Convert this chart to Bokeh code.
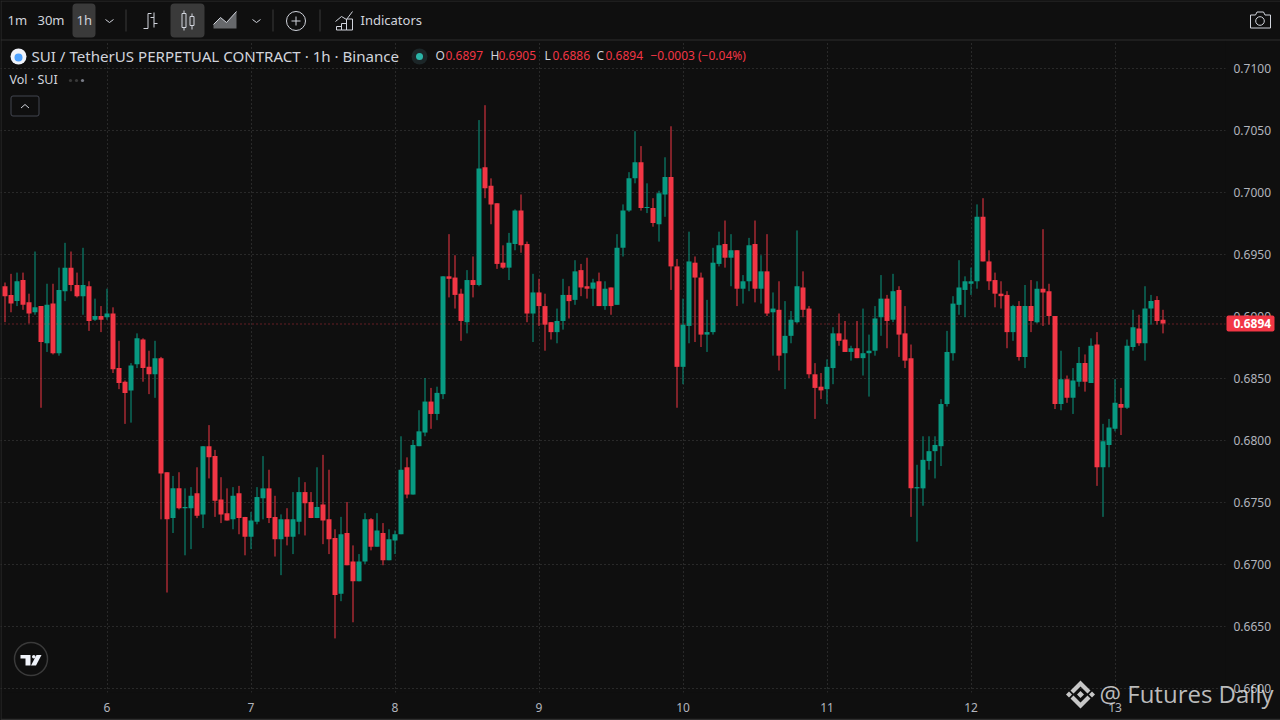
from bokeh.core.properties import value
from bokeh.embed import file_html
from bokeh.layouts import column
from bokeh.models import (ColumnDataSource, FixedTicker,
                          PrintfTickFormatter, Range1d, Span)
from bokeh.plotting import figure
from bokeh.resources import INLINE

PRICE_UNIT = 1e-4
opens = [6924,6917,6912,6929,6911,6903,6908,6878,6910,6870,
6920,6939,6925,6916,6924,6897,6900,6899,6902,6858,
6847,6840,6861,6881,6859,6853,6866,6774,6737,6761,
6745,6745,6757,6740,6795,6787,6752,6741,6736,6757,
6738,6722,6734,6753,6761,6738,6720,6736,6722,6734,
6758,6750,6737,6748,6736,6721,6676,6725,6702,6686,
6702,6736,6714,6725,6703,6719,6724,6778,6756,6795,
6806,6831,6821,6837,6932,6931,6918,6895,6929,6925,
7020,7005,6991,6943,6939,6958,6985,6958,6902,6919,
6908,6895,6887,6896,6917,6913,6937,6924,6922,6928,
6908,6923,6909,6955,6985,7011,7024,6987,6987,6974,
6998,7012,6940,6859,6892,6943,6931,6885,6887,6942,
6958,6947,6953,6922,6928,6958,6922,6936,6903,6905,
6870,6884,6895,6923,6906,6853,6843,6841,6858,6886,
6881,6871,6874,6866,6870,6872,6899,6914,6897,6921,
6886,6866,6761,6761,6783,6791,6795,6829,6870,6909,
6921,6926,6928,6980,6944,6929,6918,6917,6887,6908,
6867,6908,6895,6922,6920,6900,6829,6849,6834,6847,
6862,6846,6877,6778,6796,6809,6829,6826,6875,6890,
6878,6906,6913,6897]
closes = [6916,6910,6928,6909,6902,6907,6879,6909,6870,6921,
6939,6925,6916,6925,6896,6900,6897,6902,6857,6846,
6838,6860,6882,6858,6853,6866,6773,6736,6761,6745,
6746,6755,6739,6795,6786,6751,6740,6735,6755,6737,
6722,6735,6754,6761,6737,6720,6736,6722,6736,6758,
6749,6737,6746,6735,6720,6675,6724,6699,6686,6702,
6736,6714,6727,6703,6720,6724,6776,6756,6796,6807,
6831,6821,6838,6932,6930,6917,6896,6929,6925,7019,
7003,6990,6942,6939,6959,6985,6957,6902,6919,6908,
6893,6887,6896,6917,6912,6936,6923,6922,6927,6908,
6922,6908,6955,6985,7011,7024,6987,6988,6975,6999,
7012,6940,6859,6893,6944,6931,6885,6887,6943,6957,
6947,6953,6922,6928,6957,6922,6936,6902,6906,6868,
6884,6897,6924,6905,6853,6842,6840,6859,6886,6880,
6871,6874,6866,6870,6872,6898,6914,6896,6920,6885,
6864,6761,6762,6784,6791,6796,6829,6871,6910,6923,
6928,6928,6980,6944,6928,6918,6916,6887,6908,6867,
6908,6896,6922,6919,6900,6829,6849,6834,6848,6862,
6847,6876,6778,6799,6810,6830,6826,6876,6891,6878,
6906,6912,6896,6894]
highs = [6927,6934,6935,6935,6918,6952,6908,6926,6926,6939,
6959,6952,6935,6955,6928,6914,6908,6922,6907,6880,
6848,6862,6886,6882,6872,6880,6867,6774,6771,6774,
6761,6762,6778,6795,6812,6792,6770,6761,6762,6763,
6738,6742,6762,6787,6776,6755,6740,6745,6758,6770,
6766,6758,6778,6788,6776,6728,6738,6750,6715,6708,
6741,6737,6741,6733,6728,6727,6803,6786,6800,6824,
6850,6842,6843,6932,6966,6949,6922,6937,6948,7058,
7070,7011,6991,6957,6967,6986,6998,6960,6934,6930,
6918,6895,6906,6930,6924,6945,6942,6947,6930,6935,
6928,6923,6966,6990,7016,7049,7037,7007,6995,7001,
7028,7053,6946,6914,6968,6948,6935,6913,6955,6968,
6977,6966,6953,6933,6963,6977,6949,6966,6919,6928,
6912,6904,6969,6936,6908,6862,6854,6865,6891,6902,
6896,6876,6896,6906,6885,6908,6933,6917,6934,6924,
6908,6877,6780,6803,6803,6803,6833,6888,6916,6945,
6932,6939,6990,6995,6953,6935,6928,6920,6909,6912,
6925,6929,6928,6970,6926,6900,6872,6852,6858,6875,
6869,6882,6887,6813,6817,6849,6842,6881,6905,6901,
6924,6917,6916,6905]
lows = [6895,6903,6908,6905,6894,6901,6826,6871,6869,6868,
6912,6920,6915,6901,6888,6896,6887,6897,6854,6841,
6813,6814,6858,6847,6837,6834,6736,6677,6725,6744,
6707,6712,6737,6729,6769,6738,6733,6735,6728,6724,
6707,6712,6732,6736,6733,6706,6691,6715,6708,6724,
6723,6737,6737,6716,6708,6640,6670,6699,6653,6686,
6700,6711,6714,6699,6703,6708,6724,6753,6756,6795,
6803,6809,6816,6833,6915,6906,6880,6886,6915,6924,
6995,6974,6938,6938,6929,6953,6951,6895,6879,6892,
6872,6881,6878,6889,6898,6909,6916,6914,6908,6908,
6905,6901,6909,6948,6984,7007,6985,6983,6972,6960,
6980,6921,6826,6845,6878,6879,6875,6871,6885,6940,
6939,6924,6908,6910,6920,6911,6910,6900,6868,6856,
6841,6878,6894,6899,6850,6817,6833,6829,6845,6876,
6871,6864,6866,6852,6835,6868,6884,6874,6895,6867,
6858,6738,6718,6747,6776,6769,6779,6827,6864,6901,
6899,6917,6922,6944,6921,6907,6906,6874,6880,6864,
6858,6887,6894,6892,6893,6825,6824,6830,6821,6843,
6839,6846,6763,6738,6778,6807,6804,6825,6872,6876,
6864,6893,6893,6886]
price_ticks = [0.66, 0.665, 0.67, 0.675, 0.68, 0.685, 0.69, 0.695, 0.70, 0.705, 0.71]
day_hours = [17, 41, 65, 89, 113, 137, 161, 185]
day_labels = ["6", "7", "8", "9", "10", "11", "12", "13"]
title_text = "SUI / TetherUS PERPETUAL CONTRACT \u00b7 1h \u00b7 Binance"
last_price = 0.6894

BG = "#0f0f0f"
UP = "#089981"
DOWN = "#f23645"
FG = "#d1d4dc"
LINE = "#2e2e2e"
FONT = "Noto Sans"
W, H = 1280, 720

# ---- chart ----
FRAME_W, TOP, BOTTOM = 1225, 40, 692
PX_PER_HOUR, PX_PER_PRICE = 6, 12400
x0 = -4.5 / PX_PER_HOUR
y_at_top = 0.69 + (315.5 - TOP) / PX_PER_PRICE
y_at_bottom = 0.69 + (315.5 - BOTTOM) / PX_PER_PRICE

p = figure(width=W, height=H, x_range=Range1d(x0, x0 + FRAME_W / PX_PER_HOUR),
           y_range=Range1d(y_at_bottom, y_at_top), y_axis_location="right", tools="",
           output_backend="svg", toolbar_location=None, min_border_left=0, min_border_top=TOP,
           min_border_right=W - FRAME_W, min_border_bottom=H - BOTTOM, frame_align=False,
           background_fill_color=BG, border_fill_color=BG, outline_line_color=None,
           styles={"background-color": BG})

o = [v * PRICE_UNIT for v in opens]
c = [v * PRICE_UNIT for v in closes]
src = ColumnDataSource(dict(
    x=list(range(len(o))), high=[v * PRICE_UNIT for v in highs], low=[v * PRICE_UNIT for v in lows],
    top=[max(a, b) for a, b in zip(o, c)], bottom=[min(a, b) for a, b in zip(o, c)],
    color=[UP if b >= a else DOWN for a, b in zip(o, c)]))

for ax in (p.yaxis[0], p.xaxis[0]):
    ax.axis_line_color = None
    ax.major_tick_line_color = None
    ax.minor_tick_line_color = None
    ax.major_label_text_color = "#b2b5be"
    ax.major_label_text_font = FONT
    ax.major_label_text_font_size = "12px"
p.yaxis[0].ticker = FixedTicker(ticks=price_ticks)
p.yaxis[0].formatter = PrintfTickFormatter(format="%.4f")
p.yaxis[0].major_label_standoff = 2
p.xaxis[0].ticker = FixedTicker(ticks=day_hours)
p.xaxis[0].major_label_overrides = dict(zip(day_hours, day_labels))
p.xaxis[0].major_label_standoff = 4
for g in (p.xgrid[0], p.ygrid[0]):
    g.grid_line_color = "#444444"
    g.grid_line_dash = "1 3"
    g.grid_line_width = 1

p.add_layout(Span(location=last_price - 0.56 / PX_PER_PRICE, dimension="width", line_color=DOWN, line_alpha=0.75,
                  line_dash="1 3", line_width=1))
p.segment(x0="x", x1="x", y0="low", y1="high", line_color="color", line_width=1, source=src)
p.vbar(x="x", width=5 / PX_PER_HOUR, top="top", bottom="bottom", fill_color="color", line_color=None, source=src)

# ---- interface layer over the chart: 1 unit = 1 page pixel ----
u = figure(width=W, height=H, x_range=Range1d(0, W), y_range=Range1d(H, 0), tools="",
           output_backend="svg", toolbar_location=None, min_border=0, frame_align=False,
           background_fill_color=None, border_fill_color=None, outline_line_color=None,
           margin=(-H, 0, 0, 0))
u.xaxis.visible = False
u.yaxis.visible = False
u.grid.visible = False


def label(x, y, text, color=FG, size=12, bold=False, font=FONT, alpha=1.0):
    u.text(x=[x - 1], y=[y - 1.5], text=[text], text_color=color, text_font=value(font), text_alpha=alpha,
           text_font_size=f"{size}px", text_baseline="middle", text_font_style="bold" if bold else "normal")


# toolbar
u.quad(left=[72, 170], right=[95, 204], top=[3, 3], bottom=[37, 37], fill_color="#3a3a3a", line_color=None, border_radius=4)
for x, text in [(8, "1m"), (38, "30m"), (77, "1h"), (361, "Indicators")]:
    label(x, 20.5, text, FG, 13)
ink = dict(line_color=FG, line_width=1)
u.multi_line(xs=[[105, 109, 113], [252, 256, 260]], ys=[[19, 22, 19], [19, 22, 19]], **ink)
u.multi_line(xs=[[125.5, 125.5], [272.5, 272.5], [319.5, 319.5]], ys=[[9, 31]] * 3, line_color="#3a3a3a", line_width=1)
u.multi_line(xs=[[147.5, 147.5], [143, 147.5], [147.5, 151], [153.5, 153.5], [150, 153.5], [153.5, 157]],
             ys=[[13, 28], [28, 28], [13, 13], [12, 27], [17, 17], [23, 23]], **ink)
u.multi_line(xs=[[183.5, 183.5], [183.5, 183.5], [191.5, 191.5], [191.5, 191.5]],
             ys=[[10, 13], [27, 30], [13, 16], [25, 29]], **ink)
u.quad(left=[181.5, 189.5], right=[185.5, 193.5], top=[13, 16], bottom=[27, 25], fill_color=None, **ink)
u.patch(x=[213, 220, 226, 236, 236, 213], y=[24, 17, 22, 11, 28, 28], fill_color=FG, fill_alpha=0.45, line_color=None)
u.line(x=[213, 220, 226, 236], y=[24, 17, 22, 11], **ink)
u.circle(x=[295.5], y=[20.5], radius=9.5, fill_color=None, **ink)
u.multi_line(xs=[[291, 300], [295.5, 295.5]], ys=[[20.5, 20.5], [16, 25]], **ink)
u.line(x=[335, 341, 346, 352], y=[21, 16, 19, 11], **ink)
u.quad(left=[336, 341, 346], right=[341, 346, 352], top=[26, 23, 18.5], bottom=[29.5, 29.5, 29.5], fill_color=None, **ink)
u.patch(x=[1250, 1255, 1256.5, 1263, 1264.5, 1270, 1270, 1250], y=[14.5, 14.5, 11.5, 11.5, 14.5, 14.5, 27.5, 27.5],
        fill_color=None, **ink)
u.circle(x=[1259.5], y=[20.5], radius=4.3, fill_color=None, **ink)
# page edges and header rule
u.quad(left=[0, 0, 0, 0], right=[W, W, 1, W], top=[39, 0, 0, 718.3], bottom=[40, 1, H, H], fill_color=LINE, line_color=None)

# legend rows
u.circle(x=[18], y=[56], radius=8, fill_color="#f0f3fa", line_color=None)
u.scatter(x=[18], y=[57], size=8, marker="circle", fill_color="#4da2ff", line_color=None)
label(32, 56.5, title_text, size=15.1)
u.circle(x=[419], y=[56], radius=8, fill_color="#1c2628", line_color=None)
u.circle(x=[419], y=[56], radius=3.5, fill_color="#2bb5a8", line_color=None)
for x, text, color in [(436, "O", FG), (446, "0.6897", DOWN), (491, "H", FG), (499, "0.6905", DOWN),
                       (545, "L", FG), (553, "0.6886", DOWN), (597, "C", FG), (606, "0.6894", DOWN),
                       (651, "\u22120.0003 (\u22120.04%)", DOWN)]:
    label(x, 56.5, text, color, 12)
label(10, 80, "Vol \u00b7 SUI", FG, 12.5)
u.circle(x=[70, 76, 82], y=[80, 80, 80], radius=1.6, fill_color=["#3a3a3a", "#3a3a3a", "#787b86"], line_color=None)
u.quad(left=[10.5], right=[38.5], top=[95.5], bottom=[115.5], fill_color=None, line_color="#434651", line_width=1, border_radius=2)
u.line(x=[20.5, 24.5, 28.5], y=[107.5, 104, 107.5], line_color=FG, line_width=1)

# TV logo
u.circle(x=[30.5], y=[658.5], radius=16.5, fill_color=None, line_color="#3a3a3a", line_width=1.5)
u.patch(x=[20, 30, 30, 25, 25, 20], y=[654.5, 654.5, 665, 665, 658, 658], fill_color="#f0f3fa", line_color=None)
u.patch(x=[36, 41, 35.5, 30.5], y=[654.5, 654.5, 665, 665], fill_color="#f0f3fa", line_color=None)
u.circle(x=[33.3], y=[656.3], radius=1.8, fill_color="#f0f3fa", line_color=None)

# last price tag
u.quad(left=[1226], right=[1274], top=[315], bottom=[331], fill_color=DOWN, line_color=None, border_radius=2)
label(1234, 324.5, "0.6894", "#ffffff", 12, True)

# watermark
WM = "#dcdcdc"
for xs, ys in [([1080, 1090, 1087, 1080, 1073, 1070], [680, 690, 693, 686, 693, 690]),
               ([1080, 1090, 1087, 1080, 1073, 1070], [708, 698, 695, 702, 695, 698]),
               ([1068.5, 1071.5, 1068.5, 1065.5], [691, 694, 697, 694]),
               ([1091.5, 1094.5, 1091.5, 1088.5], [691, 694, 697, 694]),
               ([1080, 1083.5, 1080, 1076.5], [690.5, 694, 697.5, 694])]:
    u.patch(x=xs, y=ys, fill_color=WM, fill_alpha=0.9, line_color=None)
label(1100, 694, "@ Futures Daily", WM, 24, font="Open Sans", alpha=0.85)

page = column(p, u, spacing=0)
open("out.html", "w").write(file_html(page, INLINE))
